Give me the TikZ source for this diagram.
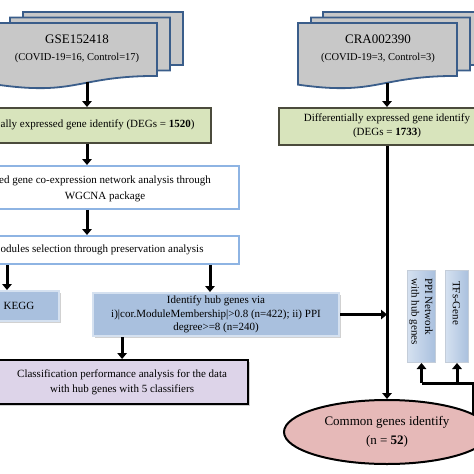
\documentclass[tikz,border=0pt]{standalone}
\usepackage{fontspec}
\setmainfont{Liberation Serif}
\usetikzlibrary{arrows.meta,shadows,shapes.geometric}
\definecolor{docfill}{HTML}{C8C8C8}
\definecolor{docdraw}{HTML}{3A5D8A}
\definecolor{degfill}{HTML}{D8E4BC}
\definecolor{degdraw}{HTML}{4B4B3C}
\definecolor{wdraw}{HTML}{8EB4E3}
\definecolor{btnfill}{HTML}{A9C0DE}
\definecolor{btnedge}{HTML}{D5E1F0}
\definecolor{classfill}{HTML}{DDD4E9}
\definecolor{ellfill}{HTML}{E6B9B8}
\newcommand\mydoc[4]{%
  \draw[docpath] (#1,#2) -- ({#1+#3},#2) -- ({#1+#3},{#2+0.802*#4})
    .. controls ({#1+0.5*#3},{#2+0.802*#4}) and ({#1+0.5*#3},{#2+1.107*#4}) .. (#1,{#2+0.934*#4}) -- cycle;}
\tikzset{
  every node/.style={font=\fontsize{11}{13.5}\selectfont},
  boxbase/.style={rectangle, inner sep=0pt, anchor=north west},
  softshadow/.style={drop shadow={shadow xshift=1.5pt, shadow yshift=-1.5pt, opacity=0.3, fill=black!60}},
  degbox/.style={boxbase, fill=degfill, draw=degdraw, line width=1.8pt, softshadow},
  whitebox/.style={boxbase, fill=white, draw=wdraw, line width=1.8pt, softshadow},
  bluebtn/.style={boxbase, fill=btnfill, draw=btnedge, line width=2pt, softshadow},
  vbtn/.style={boxbase, left color=btnedge, right color=btnfill, draw=btnedge!80!gray, line width=1pt},
  classbox/.style={boxbase, fill=classfill, draw=black, line width=2.2pt, softshadow},
  docpath/.style={fill=docfill, draw=docdraw, line width=1.8pt},
  flow/.style={line width=3pt, -{Triangle[length=6pt,width=9.5pt]}},
  plainline/.style={line width=3pt},
  lbl/.style={inner sep=0pt, align=center},
}
\begin{document}
\begin{tikzpicture}[x=1pt,y=-1pt]
\useasboundingbox (0,0) rectangle (474,474);
\clip (0,0) rectangle (474,474);
% GSE documents
\mydoc{23}{12}{160}{66}
\mydoc{10}{17.5}{160}{66}
\mydoc{-3}{23}{160}{66}
\node[lbl] (gse) at (77,49) {{\fontsize{13}{15}\selectfont GSE152418}\\[3pt]{\fontsize{10.5}{12}\selectfont (COVID-19=16, Control=17)}};
\coordinate (gsebot) at (87,82);
% CRA documents
\mydoc{323}{12}{159}{66}
\mydoc{311}{17.5}{159}{66}
\mydoc{298}{23}{159}{66}
\node[lbl] (cra) at (378,49) {{\fontsize{13}{15}\selectfont CRA002390}\\[3pt]{\fontsize{10.5}{12}\selectfont (COVID-19=3, Control=3)}};
\coordinate (crabot) at (387,83);
% left column boxes
\node[degbox, minimum width=215pt, minimum height=35pt] (deg1) at (-5,107) {};
\node[lbl, anchor=west] (deg1t) at (0.5,125) {ally expressed gene identify (DEGs = \textbf{1520})};
\node[whitebox, minimum width=278pt, minimum height=43pt] (wg) at (-40,165) {};
\node[lbl] (wgt) at (105,189) {ed gene co-expression network analysis through\\[2pt]WGCNA package};
\node[whitebox, minimum width=278pt, minimum height=28pt] (mod) at (-40,235) {};
\node[lbl, anchor=west] (modt) at (0.5,250) {odules selection through preservation analysis};
\node[bluebtn, minimum width=80pt, minimum height=30pt] (kegg) at (-22,290) {KEGG};
\node[bluebtn, minimum width=246pt, minimum height=43pt, align=center] (hub) at (92,292) {Identify hub genes via\\i)|cor.ModuleMembership|>0.8 (n=422); ii) PPI\\degree>=8 (n=240)};
\node[classbox, minimum width=252pt, minimum height=44pt, align=center] (cls) at (-5,359) {Classification performance analysis for the data\\[2pt]with hub genes with 5 classifiers};
% right column
\node[degbox, minimum width=215pt, minimum height=37pt] (deg2) at (278,107) {};
\node[lbl] (deg2t) at (387,126) {Differentially expressed gene identify\\(DEGs = \textbf{1733})};
\node[ellipse, draw=black, line width=2pt, fill=ellfill, minimum width=206pt, minimum height=64pt, inner sep=0pt, align=center, font=\fontsize{13}{15}\selectfont] (ell) at (387,432) {Common genes identify\\[4pt](n = \textbf{52})};
\node[vbtn, minimum width=28pt, minimum height=92pt] (ppi) at (407,270) {};
\node[lbl, rotate=-90, anchor=west, align=left] (ppit) at (421,278) {PPI Network\\with hub genes};
\node[vbtn, minimum width=23pt, minimum height=92pt] (tfs) at (445,270) {};
\node[lbl, rotate=-90, anchor=west] (tfst) at (456.5,281) {TFs-Gene};
% connectors
\coordinate (kx) at (7,0);
\coordinate (hx) at (210,0);
\draw[flow] (gsebot) -- (gsebot |- deg1.north);
\draw[flow] (gsebot |- deg1.south) -- (gsebot |- wg.north);
\draw[flow] (gsebot |- wg.south) -- (gsebot |- mod.north);
\draw[flow] (kx |- mod.south) -- (kx |- kegg.north);
\draw[flow] (hx |- mod.south) -- (hx |- hub.north);
\draw[flow] (cls.north |- hub.south) -- (cls.north);
\draw[flow] (crabot) -- (crabot |- deg2.north);
\draw[flow] (ell.north |- deg2.south) -- (ell.north);
\draw[flow] (hub.east) -- (hub.east -| ell.north);
\coordinate (jr) at (ell.12 |- 0,383);
\draw[plainline] (ell.12) -- (jr) -- (ppi.south |- jr);
\draw[flow] (ppi.south |- jr) -- (ppi.south);
\draw[flow] (tfs.south |- jr) -- (tfs.south);
\end{tikzpicture}
\end{document}
